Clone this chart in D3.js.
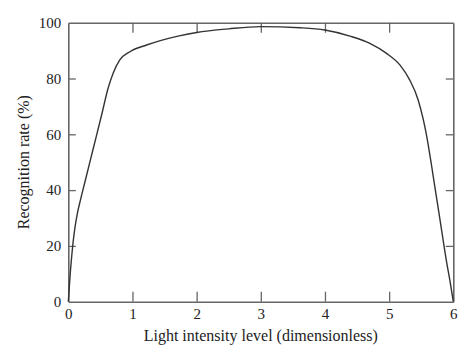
<!DOCTYPE html>
<html>
<head>
<meta charset="utf-8">
<script src="https://cdn.jsdelivr.net/npm/d3@7"></script>
<style>
  body { margin: 0; background: #fff; }
  text { font-family: "Liberation Serif", "DejaVu Serif", serif; fill: #222; }
</style>
</head>
<body>
<svg id="chart" width="474" height="363"></svg>
<script>
// Values
const lightLevel = [0, 0.03, 0.06, 0.10, 0.14, 0.19, 0.26, 0.39, 0.52, 0.62, 0.70, 0.80, 0.96, 1.22, 1.71, 2.0, 2.5, 3.0, 3.61, 4.0, 4.39, 4.70, 4.96, 5.17, 5.32, 5.45, 5.53, 5.58, 5.66, 5.71, 5.79, 5.89, 5.955, 6.0];
const recogRate  = [0, 10.0, 18.0, 26.0, 31.5, 36.5, 43.0, 55.0, 67.0, 76.5, 82.0, 86.6, 89.6, 92.0, 95.2, 96.5, 97.8, 98.6, 98.2, 97.4, 95.2, 92.6, 89.0, 84.8, 79.5, 72.5, 65.5, 60.0, 49.0, 41.5, 29.8, 15.0, 6.5, 0];

const xTicks = [0, 1, 2, 3, 4, 5, 6];
const yTicks = [0, 20, 40, 60, 80, 100];

const xTitle = 'Light intensity level (dimensionless)';
const yTitle = 'Recognition rate (%)';

function drawChart() {
  let margin = {top: 22.7, right: 20.7, bottom: 61.3, left: 68.3},
      width = 474 - margin.left - margin.right,
      height = 363 - margin.top - margin.bottom;

  let svg = d3.select('#chart'),
      g = svg.append('g').attr('transform', 'translate(' + margin.left + ',' + margin.top + ')');

  let x = d3.scaleLinear().domain([0, 6]).range([0, width]);
  let y = d3.scaleLinear().domain([0, 100]).range([height, 0]);

  let data = lightLevel.map((d, i) => ({ x: d, y: recogRate[i] }));

  const axisColor = '#666';

  // inward ticks on all four sides
  let bottom = g.append('g').attr('transform', 'translate(0,' + height + ')')
    .call(d3.axisBottom(x).tickValues(xTicks).tickFormat(d3.format('d')).tickSizeInner(-10).tickSizeOuter(0).tickPadding(7));
  let top = g.append('g')
    .call(d3.axisTop(x).tickValues(xTicks).tickSizeInner(-10).tickSizeOuter(0).tickFormat(''));
  let left = g.append('g')
    .call(d3.axisLeft(y).tickValues(yTicks).tickFormat(d3.format('d')).tickSizeInner(-7.5).tickSizeOuter(0).tickPadding(7));
  let right = g.append('g').attr('transform', 'translate(' + width + ',0)')
    .call(d3.axisRight(y).tickValues(yTicks).tickSizeInner(-7.5).tickSizeOuter(0).tickFormat(''));

  [bottom, top, left, right].forEach(a => {
    a.attr('font-family', null).attr('font-size', null);
    a.select('.domain').attr('stroke', axisColor).attr('stroke-width', 1.6);
    a.selectAll('.tick line').attr('stroke', axisColor).attr('stroke-width', 1.3);
    a.selectAll('.tick text')
      .style('font-family', '"Liberation Serif", serif')
      .style('font-size', '15px')
      .attr('fill', '#222');
  });
  // hide the ticks sitting on the frame corners
  [bottom, top].forEach(a => a.selectAll('.tick line').filter(d => d === 0 || d === 6).remove());
  [left, right].forEach(a => a.selectAll('.tick line').filter(d => d === 0 || d === 100).remove());

  let line = d3.line()
    .x(d => x(d.x))
    .y(d => y(d.y))
    .curve(d3.curveMonotoneX);

  g.append('path')
    .datum(data)
    .attr('fill', 'none')
    .attr('stroke', '#333')
    .attr('stroke-width', 1.4)
    .attr('d', line);

  svg.append('text')
    .attr('x', margin.left + width / 2)
    .attr('y', 341)
    .attr('text-anchor', 'middle')
    .style('font-size', '16px')
    .text(xTitle);

  svg.append('text')
    .attr('transform', 'translate(29,' + (margin.top + height / 2) + ') rotate(-90)')
    .attr('text-anchor', 'middle')
    .style('font-size', '16px')
    .text(yTitle);
}

drawChart();
</script>
</body>
</html>
